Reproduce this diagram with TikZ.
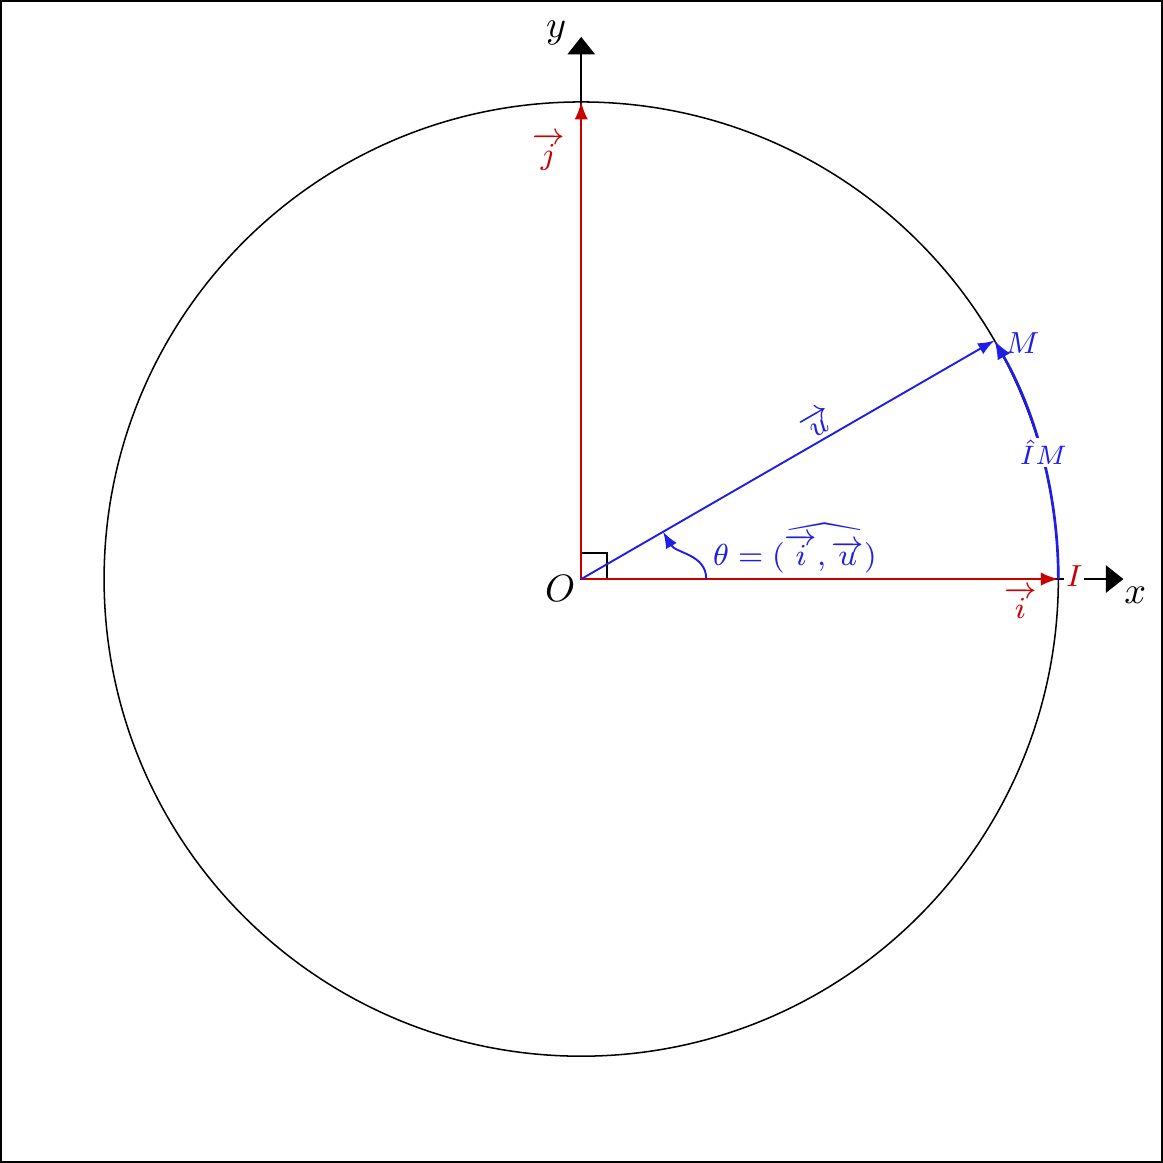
\documentclass[tikz,border=0pt]{standalone}
\usepackage{amsmath}
\usepackage{amssymb}
\usetikzlibrary{arrows, arrows.meta, positioning}

\definecolor{vecred}{RGB}{200,0,0}
\definecolor{vecblue}{RGB}{30,30,230}

\begin{document}
\begin{tikzpicture}[-latex, auto,
    axe/.style={-{Triangle[width=7.2pt,length=4.6pt]}, thin},
    vecr/.style={vecred, line width=0.6pt},
    vecb/.style={vecblue, line width=0.5pt},
    lbl/.style={font=\footnotesize},
    pt/.style={font=\scriptsize}]
  \useasboundingbox (-5.36,-5.385) rectangle (5.365,5.34);
  \draw[-] (-5.35,-5.375) rectangle (5.355,5.33);

  \coordinate (O) at (0,0);
  \coordinate (I) at (0:4.4);
  \coordinate (J) at (90:4.4);
  \coordinate (M) at (30:4.4);
  \coordinate (X) at (5,0);
  \coordinate (Y) at (0,5);
  \coordinate (A1) at (1.153,0);
  \coordinate (A2) at (30:0.872);

  \draw[-] (O) circle (4.4);
  \draw[axe] (O) -- (X);
  \draw[axe] (O) -- (Y);
  \draw[-] (O) rectangle (0.24,0.24);

  \draw[vecr] (O) -- (I);
  \draw[vecr] (O) -- (J);
  \draw[vecb] (O) -- node[sloped, above, pos=0.59, lbl, inner sep=1pt, text=vecblue] (ulbl) {$\overrightarrow{u}$} (M);
  \draw[vecb, line width=0.7pt] (I) arc (0:30:4.4);
  \draw[vecb] (A1) to[out=90, in=-60] (A2);

  \node (Olbl) at (-0.194,-0.083) {$O$};
  \node (xlbl) at (5.11,-0.148) {$x$};
  \node (ylbl) at (-0.231,5.036) {$y$};
  \node[lbl, text=vecred, fill=white, inner sep=0.5pt] (Ilbl) at (4.547,0.028) {$I$};
  \node[lbl, text=vecred] (ilbl) at (4.05,-0.221) {$\overrightarrow{i}$};
  \node[lbl, text=vecred] (jlbl) at (-0.304,3.939) {$\overrightarrow{j}$};
  \node[lbl, text=vecblue] (Mlbl) at (4.068,2.177) {$M$};
  \node[pt, text=vecblue, fill=white, inner sep=0.5pt] (IMlbl) at (4.262,1.17) {$\hat{I}M$};
  \node[lbl, text=vecblue] (thlbl) at (1.97,0.286) {$\theta=(\widehat{\overrightarrow{i},\overrightarrow{u}})$};
\end{tikzpicture}
\end{document}
